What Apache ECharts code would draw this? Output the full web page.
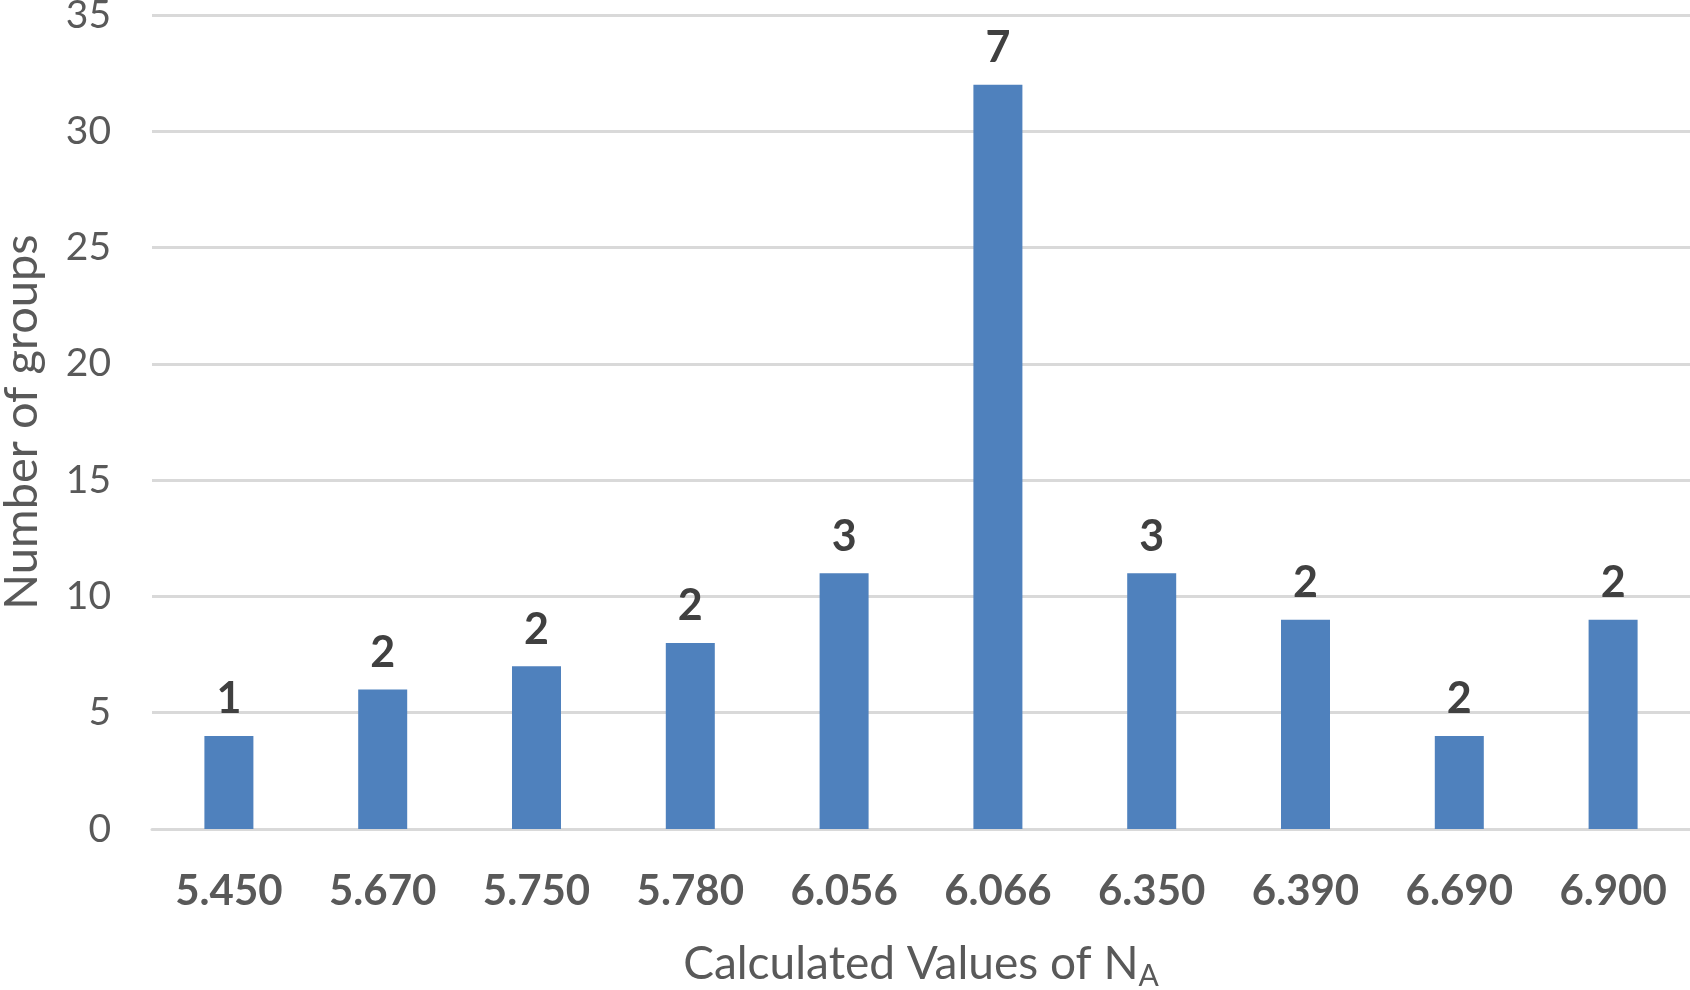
<!DOCTYPE html>
<html>
<head>
<meta charset="utf-8">
<script src="https://cdn.jsdelivr.net/npm/echarts@6/dist/echarts.min.js"></script>
<style>html,body{margin:0;padding:0;background:#fff;}#c{width:1690px;height:990px;}</style>
</head>
<body>
<div id="c"></div>
<script>
const categories = ['5.450','5.670','5.750','5.780','6.056','6.066','6.350','6.390','6.690','6.900'];
const groupCounts = [4, 6, 7, 8, 11, 32, 11, 9, 4, 9];
const barLabels = ['1','2','2','2','3','7','3','2','2','2'];
const yTicks = {min: 0, max: 35, interval: 5};

const chart = echarts.init(document.getElementById('c'));
const FONT = 'Lato';
chart.setOption({
  animation: false,
  backgroundColor: '#ffffff',
  grid: {left: 152, right: 0, top: 15, bottom: 161, containLabel: false, outerBoundsMode: 'none'},
  xAxis: {
    type: 'category',
    data: categories,
    axisLine: {show: true, lineStyle: {color: '#d9d9d9', width: 3}},
    axisTick: {show: false},
    axisLabel: {color: '#595959', fontFamily: FONT, fontWeight: 'bold', fontSize: 42, margin: 41},
    name: '{a|Calculated Values of N}{b|A}',
    nameLocation: 'middle',
    nameGap: 108,
    nameTextStyle: {
      fontFamily: FONT,
      color: '#595959',
      rich: {
        a: {fontSize: 46, fontFamily: FONT, color: '#595959'},
        b: {fontSize: 30, fontFamily: FONT, color: '#595959', padding: [24, 0, 0, 0]}
      }
    }
  },
  yAxis: {
    type: 'value',
    min: yTicks.min, max: yTicks.max, interval: yTicks.interval,
    axisLine: {show: false},
    axisTick: {show: false},
    splitLine: {lineStyle: {color: '#d9d9d9', width: 3}},
    axisLabel: {color: '#595959', fontFamily: FONT, fontSize: 39, margin: 41},
    name: 'Number of groups',
    nameLocation: 'middle',
    nameGap: 107,
    nameTextStyle: {color: '#595959', fontFamily: FONT, fontSize: 47}
  },
  series: [{
    type: 'bar',
    data: groupCounts,
    barWidth: 49,
    itemStyle: {color: '#4f81bd'},
    label: {
      show: true,
      position: 'top',
      distance: 15,
      color: '#404040',
      fontFamily: FONT,
      fontWeight: 'bold',
      fontSize: 43,
      formatter: p => barLabels[p.dataIndex]
    }
  }]
});
</script>
</body>
</html>
